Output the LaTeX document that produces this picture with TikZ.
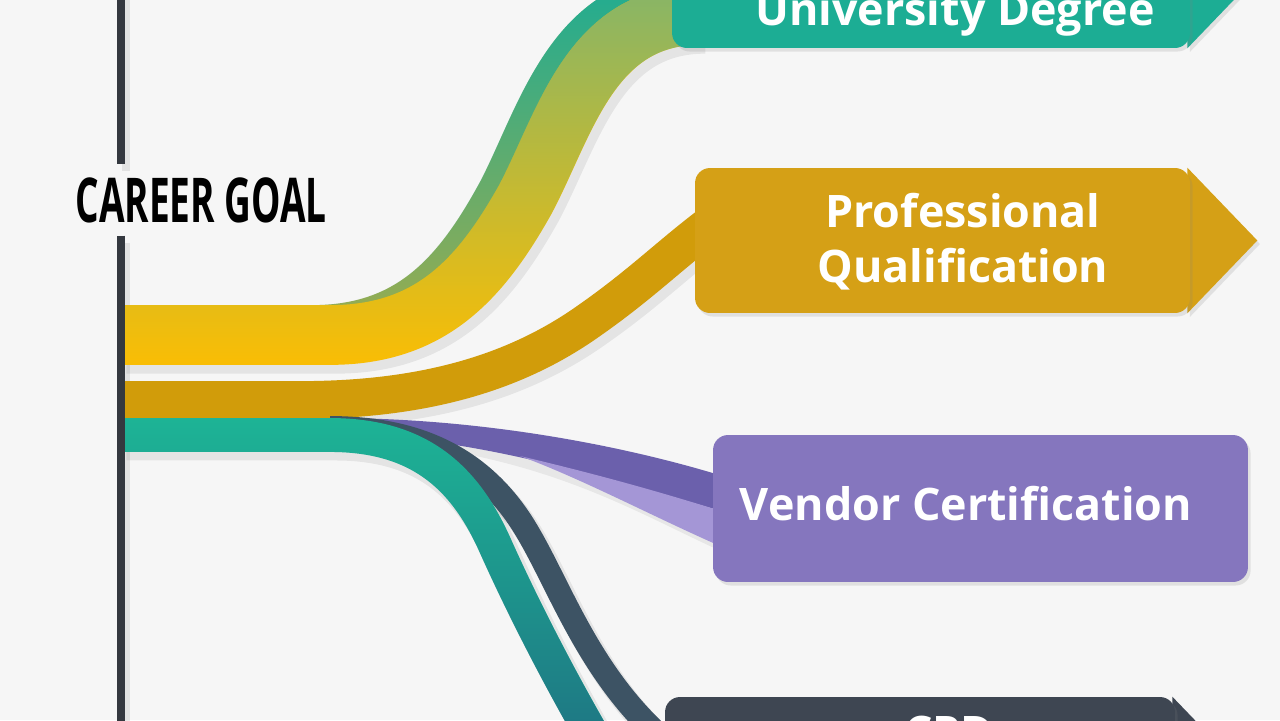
\documentclass[tikz,border=0pt]{standalone}
\usepackage{fontspec}
\setmainfont{Open Sans}
\usetikzlibrary{calc,positioning,fadings,shadows}

\definecolor{bgcol}{HTML}{F6F6F6}
\definecolor{spinecol}{HTML}{34383F}
\definecolor{uniteal}{HTML}{1CAD94}
\definecolor{profgold}{HTML}{D5A016}
\definecolor{vendpurple}{HTML}{8576BE}
\definecolor{cpdslate}{HTML}{3E4652}
\definecolor{ribyellow}{HTML}{FABE05}
\definecolor{ribgold}{HTML}{D19C0A}
\definecolor{ribteal}{HTML}{1DB496}
\definecolor{ribdeep}{HTML}{1F6A80}
\definecolor{ribslate}{HTML}{3D5364}
\definecolor{ribpurple}{HTML}{6B60AC}
\definecolor{riblilac}{HTML}{A496D6}
\definecolor{ribolive}{HTML}{A8AC48}
\definecolor{ribgreen}{HTML}{72B47A}

\tikzfading[name=fadeup, top color=transparent!0, bottom color=transparent!100]
\tikzfading[name=fadedown, top color=transparent!100, bottom color=transparent!0]

% ribbon centre lines
\newcommand\yellowpath{(ystart) -- (330,335) .. controls (430,335) and (480,280) .. (525,200) .. controls (565,125) and (590,15) .. (univin)}
\newcommand\tealuppath{(ystart) -- (312,335) .. controls (412,335) and (462,278) .. (507,195) .. controls (547,118) and (575,2) .. (tealin)}
\newcommand\goldpath{(gstart) -- (300,400) .. controls (430,400) and (520,370) .. (590,320) .. controls (640,285) and (670,255) .. (profin)}
\newcommand\slatepath{(330,428) .. controls (420,428) and (480,460) .. (520,520) .. controls (560,580) and (590,690) .. (slatein)}
\newcommand\tealpath{(tstart) -- (330,435) .. controls (420,435) and (465,478) .. (495,545) .. controls (525,612) and (570,700) .. (tealend)}

\begin{document}
\begin{tikzpicture}[x=0.02cm,y=-0.02cm,
	ribbon/.style={line width=#1, line cap=butt},
	ribshade/.style={line width=#1, line cap=butt, black, opacity=.07},
	spine/.style={line width=4.5pt, spinecol},
	pathbox/.style={rounded corners=0.3cm, minimum height=2.9cm, inner sep=0pt,
		drop shadow={opacity=.18, shadow xshift=1.5pt, shadow yshift=-2pt}},
	headshadow/.style={drop shadow={opacity=.18, shadow xshift=1.5pt, shadow yshift=-2pt}},
	boxlabel/.style={text=white, font=\fontsize{25.5}{31.2}\selectfont\bfseries, align=center, inner sep=0pt}]
	\useasboundingbox (0,0) rectangle (1280,720);
	\clip (0,0) rectangle (1280,720);
	\fill[bgcol] (0,0) rectangle (1280,720);

	% goal label on the spine
	\node[inner xsep=2pt, inner ysep=7.1pt] (goal) at (201,200) {\resizebox{142.9pt}{25.5pt}{\bfseries CAREER GOAL}};
	\coordinate (spinetop) at (121,-10);
	\coordinate (spinebot) at (121,730);

	% boxes (placed first, drawn later)
	\path node[minimum width=10.36cm, minimum height=2.9cm] (univ) at (931,-24.5) {}
		node[minimum width=9.9cm, minimum height=2.9cm] (prof) at (942.5,240.5) {}
		node[minimum width=10.7cm, minimum height=2.94cm] (vend) at (980.5,508.5) {}
		node[minimum width=10.2cm, minimum height=2.9cm] (cpd) at (920,769.5) {};

	\coordinate (ystart) at (121,335);
	\coordinate (gstart) at (121,400);
	\coordinate (tstart) at (121,435);
	\coordinate (univin) at ($(univ.west)+(28,39.5)$);
	\coordinate (tealin) at ($(univ.west)+(18,26.5)$);
	\coordinate (profin) at ($(prof.west)+(15,-15.5)$);
	\coordinate (vendtop) at ($(vend.west)+(5,-34)$);
	\coordinate (vendmid) at ($(vend.west)+(5,1.5)$);
	\coordinate (vendlow) at ($(vend.west)+(5,36.5)$);
	\coordinate (slatein) at ($(cpd.west)+(25,-9.5)$);
	\coordinate (tealend) at (625,790);

	% soft shadows
	\begin{scope}[transform canvas={shift={(3pt,-4pt)}}]
		\draw[ribshade=36pt] \yellowpath;
		\draw[ribshade=23pt] \goldpath;
		\draw[ribshade=15pt] \slatepath;
		\draw[ribshade=21pt] \tealpath;
		\fill[black, opacity=.06] (333,418) .. controls (480,418) and (620,445) .. (vendtop) -- (vendlow) .. controls (640,510) and (560,460) .. (420,440) -- cycle;
		\draw[line width=4.5pt, black, opacity=.08] (spinetop) -- (spinetop |- goal.north) (spinetop |- goal.south) -- (spinebot);
	\end{scope}

	% ribbons
	\draw[ribbon=34pt, ribolive] \tealuppath;
	\draw[ribbon=34pt, uniteal, path fading=fadeup] \tealuppath;
	\draw[ribbon=34pt, ribyellow] \yellowpath;
	\draw[ribbon=34pt, ribgreen, opacity=.85, path fading=fadeup] \yellowpath;
	\draw[ribbon=21.5pt, ribgold] \goldpath;

	\fill[ribpurple] (333,418) .. controls (480,418) and (620,445) .. (vendtop) -- (vendmid) .. controls (620,482) and (520,452) .. (420,440) -- cycle;
	\fill[riblilac] (520,456) .. controls (600,475) and (660,492) .. (vendmid) -- (vendlow) .. controls (650,515) and (580,478) .. (520,456) -- cycle;
	\draw[ribbon=13.6pt, ribslate] \slatepath;
	\draw[ribbon=19.3pt, ribteal] \tealpath;
	\draw[ribbon=19.3pt, ribdeep, path fading=fadedown] \tealpath;

	% spine
	\draw[spine] (spinetop) -- (spinetop |- goal.north);
	\draw[spine] (spinetop |- goal.south) -- (spinebot);

	% arrow heads and boxes
	\fill[uniteal, headshadow] ($(univ.north east)+(-3,0)$) -- ($(univ.east)+(67,0)$) -- ($(univ.south east)+(-3,0)$) -- cycle;
	\node[pathbox, fill=uniteal, minimum width=10.36cm] at (univ) {};
	\fill[profgold, headshadow] ($(prof.north east)+(-3,0)$) -- ($(prof.east)+(67,0)$) -- ($(prof.south east)+(-3,0)$) -- cycle;
	\node[pathbox, fill=profgold, minimum width=9.9cm] at (prof) {};
	\node[pathbox, fill=vendpurple, minimum width=10.7cm, minimum height=2.94cm] at (vend) {};
	\fill[cpdslate, headshadow] ($(cpd.north east)+(-3,0)$) -- ($(cpd.east)+(67,0)$) -- ($(cpd.south east)+(-3,0)$) -- cycle;
	\node[pathbox, fill=cpdslate, minimum width=10.2cm] at (cpd) {};

	% labels
	\node[boxlabel, anchor=base] (univlbl) at (955,25) {University Degree};
	\node[boxlabel] (proflbl) at (963,242) {Professional\\Qualification};
	\node[boxlabel, anchor=base] (vendlbl) at (966,520) {Vendor Certification};
	\node[boxlabel, anchor=base] (cpdlbl) at (949,748) {CPD};
\end{tikzpicture}
\end{document}
